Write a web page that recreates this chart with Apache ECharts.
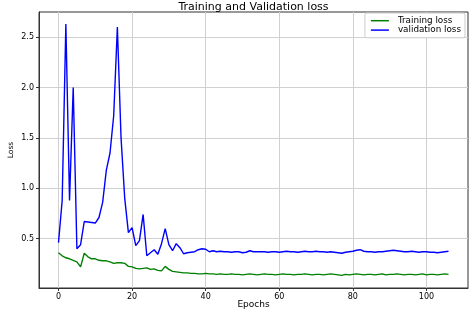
<!DOCTYPE html>
<html><head><meta charset="utf-8">
<script src="https://cdn.jsdelivr.net/npm/echarts@6/dist/echarts.min.js"></script>
<style>html,body{margin:0;padding:0;background:#fff}#c{width:474px;height:311px}</style>
</head><body><div id="c"></div>
<script>
const epochs = Array.from({length:107},(_,i)=>i);
const trainingLoss = [
0.36,0.33,0.31,0.30,0.285,0.27,0.22,0.355,0.32,0.30,
0.30,0.285,0.28,0.28,0.27,0.255,0.26,0.26,0.255,0.225,
0.22,0.205,0.20,0.205,0.21,0.195,0.20,0.185,0.18,0.225,
0.195,0.175,0.17,0.165,0.16,0.16,0.155,0.155,0.15,0.15,
0.155,0.15,0.15,0.145,0.15,0.145,0.145,0.15,0.145,0.145,
0.14,0.145,0.15,0.145,0.14,0.145,0.15,0.145,0.145,0.14,
0.145,0.15,0.145,0.145,0.14,0.145,0.145,0.15,0.145,0.14,
0.145,0.145,0.14,0.145,0.15,0.145,0.14,0.135,0.145,0.14,
0.145,0.15,0.145,0.14,0.145,0.145,0.14,0.145,0.15,0.14,
0.145,0.145,0.15,0.145,0.14,0.145,0.145,0.14,0.145,0.15,
0.14,0.145,0.145,0.14,0.145,0.15,0.145
];
const validationLoss = [
0.46,0.88,2.63,0.88,2.00,0.40,0.44,0.67,0.665,0.66,
0.655,0.71,0.86,1.18,1.35,1.72,2.60,1.50,0.90,0.56,
0.61,0.43,0.48,0.74,0.33,0.36,0.39,0.345,0.45,0.60,
0.44,0.38,0.45,0.41,0.35,0.36,0.365,0.37,0.39,0.40,
0.395,0.37,0.38,0.37,0.375,0.37,0.37,0.365,0.37,0.37,
0.36,0.365,0.38,0.37,0.37,0.37,0.37,0.365,0.37,0.37,
0.365,0.37,0.375,0.37,0.37,0.365,0.37,0.375,0.37,0.37,
0.375,0.37,0.37,0.365,0.37,0.365,0.36,0.355,0.365,0.37,
0.375,0.385,0.39,0.375,0.37,0.37,0.365,0.37,0.37,0.375,
0.38,0.385,0.38,0.375,0.37,0.37,0.375,0.37,0.365,0.37,
0.37,0.365,0.365,0.36,0.365,0.37,0.375
];
const xTicks = [0,20,40,60,80,100];
const yTicks = [0.5,1.0,1.5,2.0,2.5];

const chart = echarts.init(document.getElementById('c'), null, {renderer:'canvas'});
const font = 'DejaVu Sans';
chart.setOption({
  animation:false,
  textStyle:{fontFamily:font},
  title:{text:'Training and Validation loss', left:253.5, textAlign:'center', top:0, padding:[2,0,0,0],
    textStyle:{fontFamily:font, fontSize:11, fontWeight:'normal', color:'#000'}},
  legend:{orient:'vertical', right:9, top:13, padding:[3,4,3,6], itemGap:0,
    itemWidth:18, itemHeight:1.5, icon:'rect',
    borderColor:'#cccccc', borderWidth:1, borderRadius:2, backgroundColor:'#fff',
    textStyle:{fontFamily:font, fontSize:8.8, lineHeight:9.4, color:'#000', padding:[0,0,0,4]},
    data:['Training loss','validation loss']},
  grid:{left:39, right:6, top:12, bottom:23, show:true, borderColor:'#333', borderWidth:1,
    containLabel:false, outerBoundsMode:'none'},
  xAxis:{type:'value', min:-5.3, max:111.3,
    name:'Epochs', nameLocation:'middle', nameGap:12, nameMoveOverlap:false,
    nameTextStyle:{fontFamily:font, fontSize:9, color:'#000'},
    axisLine:{show:true, onZero:false, lineStyle:{color:'#333'}},
    axisTick:{show:true, length:3, customValues:xTicks, lineStyle:{color:'#333'}},
    axisLabel:{customValues:xTicks, fontSize:8, color:'#000', margin:5, fontFamily:font},
    splitLine:{show:true, lineStyle:{color:'#d0d0d0', width:1}}},
  yAxis:{type:'value', min:0.01, max:2.75,
    name:'Loss', nameLocation:'middle', nameGap:24, nameRotate:90, nameMoveOverlap:false,
    nameTextStyle:{fontFamily:font, fontSize:7.5, color:'#000'},
    axisLine:{show:true, onZero:false, lineStyle:{color:'#333'}},
    axisTick:{show:true, length:3, customValues:yTicks, lineStyle:{color:'#333'}},
    axisLabel:{customValues:yTicks, fontSize:8, color:'#000', margin:5, fontFamily:font,
      formatter:v=>v.toFixed(1)},
    splitLine:{show:true, lineStyle:{color:'#d0d0d0', width:1}}},
  series:[
    {name:'Training loss', type:'line', data:epochs.map((e,i)=>[e,trainingLoss[i]]),
      showSymbol:false, symbol:'none', lineStyle:{color:'#008000', width:1.4}, itemStyle:{color:'#008000'}},
    {name:'validation loss', type:'line', data:epochs.map((e,i)=>[e,validationLoss[i]]),
      showSymbol:false, symbol:'none', lineStyle:{color:'#0000ff', width:1.4}, itemStyle:{color:'#0000ff'}}
  ]
});
</script></body></html>
